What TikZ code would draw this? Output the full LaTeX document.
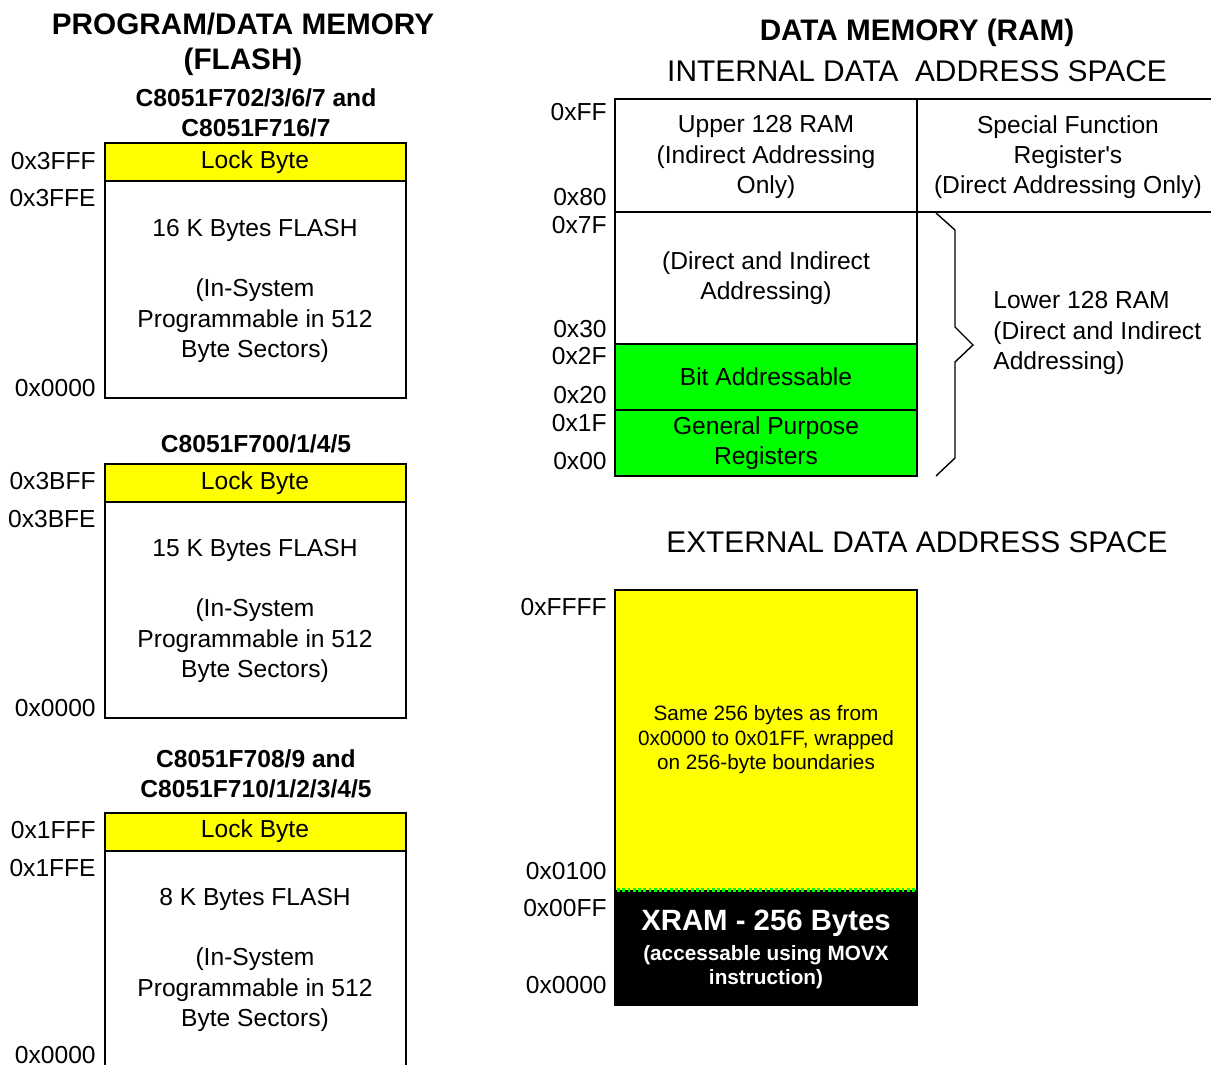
\documentclass[tikz,border=0pt]{standalone}
\usepackage{fontspec}
\setmainfont{Liberation Sans}
\definecolor{lockyellow}{HTML}{FFFF00}
\definecolor{bitgreen}{HTML}{00FF00}

\begin{document}
\begin{tikzpicture}[
    x=0.02cm,y=-0.02cm,
    mapbox/.style={draw=black,line width=1.1pt},
    body/.style={font=\fontsize{14}{17.2}\selectfont,align=center,inner sep=0pt},
    addr/.style={font=\fontsize{14}{17}\selectfont,anchor=east,inner sep=0pt},
    heading/.style={font=\fontsize{16.9}{20}\selectfont\bfseries,align=center,inner sep=0pt},
    part/.style={font=\fontsize{14}{17}\selectfont\bfseries,align=center,inner sep=0pt},
    spacetitle/.style={font=\fontsize{17}{20}\selectfont,inner sep=0pt},
    wrapnote/.style={font=\fontsize{11.8}{14}\selectfont,align=center,inner sep=0pt}
  ]
  \useasboundingbox (0,0) rectangle (1211,1065);

  % program / data memory (flash)
  \node[heading] (flashtitle) at (243,44) {PROGRAM/DATA MEMORY\\(FLASH)};

  \node[part] (partA) at (256,113) {C8051F702/3/6/7 and\\C8051F716/7};
  \fill[lockyellow] (105,143) rectangle (406,181);
  \draw[mapbox] (105,143) rectangle (406,398);
  \draw[mapbox] (105,181) -- (406,181);
  \node[body] (lockA) at (255,162) {Lock Byte};
  \node[body] (flashA) at (255,291) {16 K Bytes FLASH\\[17pt](In-System\\Programmable in 512\\Byte Sectors)};
  \node[addr] (topA) at (96,161) {0x3FFF};
  \node[addr] (nextA) at (96,198) {0x3FFE};
  \node[addr] (botA) at (96,388) {0x0000};

  \node[part] (partB) at (256,444) {C8051F700/1/4/5};
  \fill[lockyellow] (105,464) rectangle (406,502);
  \draw[mapbox] (105,464) rectangle (406,718);
  \draw[mapbox] (105,502) -- (406,502);
  \node[body] (lockB) at (255,483) {Lock Byte};
  \node[body] (flashB) at (255,611) {15 K Bytes FLASH\\[17pt](In-System\\Programmable in 512\\Byte Sectors)};
  \node[addr] (topB) at (96,481) {0x3BFF};
  \node[addr] (nextB) at (96,519) {0x3BFE};
  \node[addr] (botB) at (96,708) {0x0000};

  \node[part] (partC) at (256,774) {C8051F708/9 and\\C8051F710/1/2/3/4/5};
  \fill[lockyellow] (105,813) rectangle (406,851);
  \draw[mapbox] (105,1075) -- (105,813) -- (406,813) -- (406,1075);
  \draw[mapbox] (105,851) -- (406,851);
  \node[body] (lockC) at (255,831) {Lock Byte};
  \node[body] (flashC) at (255,960) {8 K Bytes FLASH\\[17pt](In-System\\Programmable in 512\\Byte Sectors)};
  \node[addr] (topC) at (96,830) {0x1FFF};
  \node[addr] (nextC) at (96,868) {0x1FFE};
  \node[addr] (botC) at (96,1055) {0x0000};

  % internal data memory
  \node[heading] (ramtitle) at (917,33) {DATA MEMORY (RAM)};
  \node[spacetitle] (internal) at (917,71) {INTERNAL DATA\ \ ADDRESS SPACE};

  \fill[bitgreen] (615,344) rectangle (917,476);
  \draw[mapbox] (615,99) rectangle (917,476);
  \draw[mapbox] (917,99) -- (1215,99);
  \draw[mapbox] (917,212) -- (1215,212);
  \draw[mapbox] (615,212) -- (917,212);
  \draw[mapbox] (615,344) -- (917,344);
  \draw[mapbox] (615,410) -- (917,410);

  \node[body] (upper) at (766,157) {Upper 128 RAM\\(Indirect Addressing\\Only)};
  \node[body] (sfr) at (1068,157) {Special Function\\Register\textquotesingle s\\(Direct Addressing Only)};
  \node[body] (direct) at (766,278) {(Direct and Indirect\\Addressing)};
  \node[body] (bitaddr) at (766,377) {Bit Addressable};
  \node[body] (gpr) at (766,443) {General Purpose\\Registers};

  \node[addr] (aFF) at (607,112) {0xFF};
  \node[addr] (a80) at (607,197) {0x80};
  \node[addr] (a7F) at (607,225) {0x7F};
  \node[addr] (a30) at (607,329) {0x30};
  \node[addr] (a2F) at (607,356) {0x2F};
  \node[addr] (a20) at (607,395) {0x20};
  \node[addr] (a1F) at (607,423) {0x1F};
  \node[addr] (a00) at (607,461) {0x00};

  \draw[line width=0.8pt] (936,213) -- (955,230) -- (955,327) -- (973,345)
    -- (955,362) -- (955,458) -- (936,476);
  \node[body,align=left,anchor=west] (lower) at (993,333) {Lower 128 RAM\\(Direct and Indirect\\Addressing)};

  % external data memory
  \node[spacetitle] (external) at (917,542) {EXTERNAL DATA ADDRESS SPACE};
  \fill[lockyellow] (615,590) rectangle (917,890);
  \fill[black] (615,890) rectangle (917,1005);
  \draw[mapbox] (615,590) rectangle (917,1005);
  \draw[bitgreen,line width=2.4pt,dash pattern=on 1.6pt off 1.4pt] (617,890) -- (915,890);

  \node[wrapnote] (wrapped) at (766,740) {Same 256 bytes as from\\0x0000 to 0x01FF, wrapped\\on 256-byte boundaries};
  \node[heading,font=\fontsize{16.7}{20}\selectfont\bfseries,text=white] (xram) at (766,923) {XRAM - 256 Bytes};
  \node[wrapnote,font=\fontsize{11.8}{14}\selectfont\bfseries,text=white] (movx) at (766,967) {(accessable using MOVX\\instruction)};

  \node[addr] (xFFFF) at (607,607) {0xFFFF};
  \node[addr] (x0100) at (607,871) {0x0100};
  \node[addr] (x00FF) at (607,908) {0x00FF};
  \node[addr] (x0000) at (607,985) {0x0000};
\end{tikzpicture}
\end{document}
